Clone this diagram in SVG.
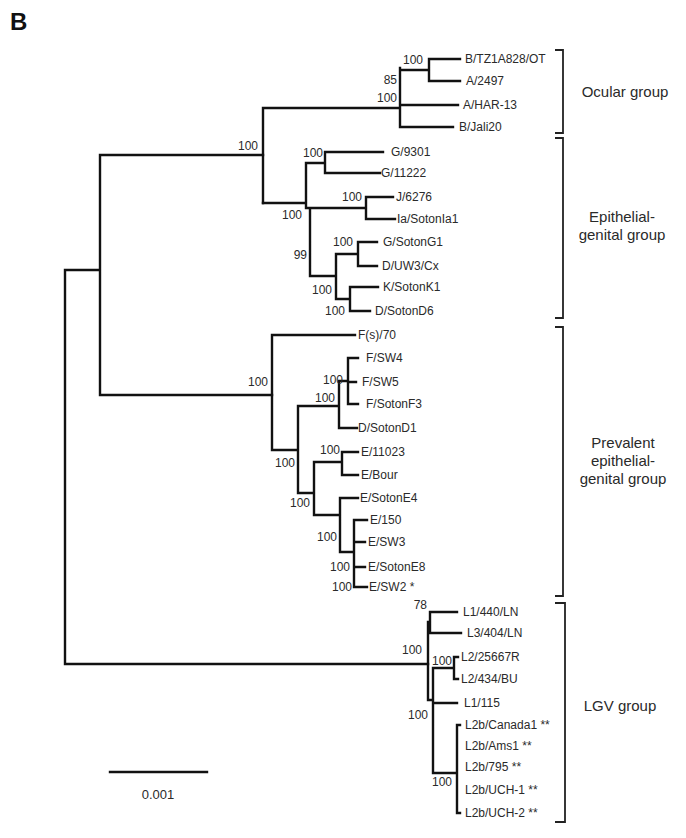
<svg xmlns="http://www.w3.org/2000/svg" width="686" height="838" viewBox="0 0 686 838">
<style>
.e{fill:none;stroke:#111;stroke-width:2.4;stroke-linecap:square}
.b{fill:none;stroke:#222;stroke-width:1.8}
text{font-family:"Liberation Sans",Arial,sans-serif;fill:#2a2a2a}
.l{font-size:12px}
.s{font-size:12px;text-anchor:end}
.g{font-size:15px;text-anchor:middle}
</style>
<rect width="686" height="838" fill="#fff"/>
<text x="10" y="30" style="font-size:24px;font-weight:bold;fill:#111">B</text>
<g id="connectors">
<path class="e" d="M65,270V664M65,270H100M100,155V395M100,155H263M100,395H272M65,664H428"/>
<!-- ocular -->
<path class="e" d="M263,108V203M263,108H400M400,68V127M400,70H429M429,59V81M429,59H460M429,81H460M400,105H458M400,127H453"/>
<!-- epithelial -->
<path class="e" d="M263,203H306M306,163V208M306,163H325M325,152V173M325,152H383M325,173H380M306,208H310M310,208V276M310,208H366M366,197V219M366,197H393M366,219H395M310,276H336M336,254V299M336,254H358M358,242V266M358,242H377M358,266H377M336,299H350M350,287V311M350,287H378M350,311H370"/>
<!-- prevalent -->
<path class="e" d="M272,335V450M272,335H355M272,450H298M298,406V493M298,406H339M339,381V428M339,381H348M348,358V404M348,358H358M348,382H356M348,404H358M339,428H357M298,493H314M314,462V515M314,462H342M342,452V475M342,452H358M342,475H358M314,515H340M340,498V552M340,498H358M340,552H354M354,520V587M354,520H367M354,542H365M354,567H365M354,587H367"/>
<!-- LGV -->
<path class="e" d="M428,622V700M428,622H430M430,612V633M430,612H457M430,633H461M428,700H433M433,668V773M433,668H454M454,657V679M454,657H458M454,679H458M433,703H457M433,773H457M457,725V813M457,725H460M457,813H460"/>
<path class="e" d="M110,772H207"/>
</g>
<g id="support" class="s">
<text x="423" y="64">100</text><text x="397" y="84">85</text><text x="397" y="102">100</text>
<text x="258" y="150">100</text>
<text x="323" y="157">100</text><text x="302" y="219">100</text><text x="362" y="201">100</text>
<text x="307" y="259">99</text><text x="353" y="246">100</text><text x="332" y="294">100</text><text x="345" y="315">100</text>
<text x="268" y="386">100</text><text x="295" y="467">100</text><text x="343" y="384">100</text><text x="335" y="402">100</text>
<text x="340" y="454">100</text><text x="310" y="507">100</text><text x="337" y="541">100</text><text x="350" y="571">100</text><text x="352" y="591">100</text>
<text x="427" y="609">78</text><text x="422" y="654">100</text><text x="452" y="665">100</text><text x="428" y="719">100</text><text x="452" y="786">100</text>
</g>
<g id="leaves" class="l">
<g id="n1"><text x="465" y="63">B/TZ1A828/OT</text></g>
<g id="n2"><text x="466" y="85">A/2497</text></g>
<g id="n3"><text x="463" y="109">A/HAR-13</text></g>
<g id="n4"><text x="459" y="131">B/Jali20</text></g>
<g id="n5"><text x="391" y="156">G/9301</text></g>
<g id="n6"><text x="381" y="177">G/11222</text></g>
<g id="n7"><text x="396" y="201">J/6276</text></g>
<g id="n8"><text x="397" y="223">Ia/SotonIa1</text></g>
<g id="n9"><text x="383" y="246">G/SotonG1</text></g>
<g id="n10"><text x="382" y="270">D/UW3/Cx</text></g>
<g id="n11"><text x="383" y="291">K/SotonK1</text></g>
<g id="n12"><text x="375" y="315">D/SotonD6</text></g>
<g id="n13"><text x="358" y="339">F(s)/70</text></g>
<g id="n14"><text x="366" y="362">F/SW4</text></g>
<g id="n15"><text x="362" y="386">F/SW5</text></g>
<g id="n16"><text x="366" y="408">F/SotonF3</text></g>
<g id="n17"><text x="358" y="432">D/SotonD1</text></g>
<g id="n18"><text x="361" y="456">E/11023</text></g>
<g id="n19"><text x="361" y="479">E/Bour</text></g>
<g id="n20"><text x="360" y="502">E/SotonE4</text></g>
<g id="n21"><text x="370" y="524">E/150</text></g>
<g id="n22"><text x="368" y="546">E/SW3</text></g>
<g id="n23"><text x="368" y="571">E/SotonE8</text></g>
<g id="n24"><text x="369" y="591">E/SW2 *</text></g>
<g id="n25"><text x="463" y="616">L1/440/LN</text></g>
<g id="n26"><text x="467" y="637">L3/404/LN</text></g>
<g id="n27"><text x="461" y="661">L2/25667R</text></g>
<g id="n28"><text x="461" y="683">L2/434/BU</text></g>
<g id="n29"><text x="464" y="707">L1/115</text></g>
<g id="n30"><text x="465" y="729">L2b/Canada1 **</text></g>
<g id="n31"><text x="465" y="750">L2b/Ams1 **</text></g>
<g id="n32"><text x="465" y="771">L2b/795 **</text></g>
<g id="n33"><text x="465" y="794">L2b/UCH-1 **</text></g>
<g id="n34"><text x="465" y="817">L2b/UCH-2 **</text></g>
</g>
<g id="brackets">
<path class="b" d="M555,50H563V133H555M555,138H563V318H555M555,327H563V596H555M555,603H565V822H555"/>
<g id="ocular"><text class="g" x="625" y="97">Ocular group</text></g>
<g id="epi"><text class="g" x="622" y="222">Epithelial-</text><text class="g" x="622" y="240">genital group</text></g>
<g id="prev"><text class="g" x="623" y="448">Prevalent</text><text class="g" x="623" y="466">epithelial-</text><text class="g" x="623" y="484">genital group</text></g>
<g id="lgv"><text class="g" x="620" y="711">LGV group</text></g>
</g>
<g id="scale"><text x="158" y="799" style="font-size:13px;text-anchor:middle">0.001</text></g>
</svg>
